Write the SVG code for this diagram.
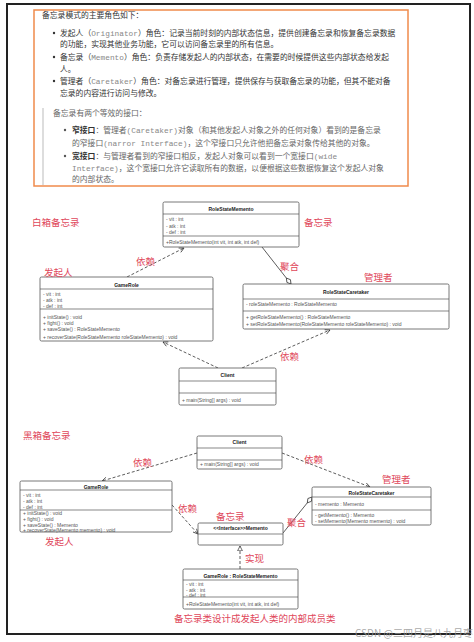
<svg xmlns="http://www.w3.org/2000/svg" width="474" height="642" viewBox="0 0 474 642">
<style>
.cn{font-family:"Noto Sans CJK SC","Noto Sans",sans-serif;font-size:7.8px;fill:#333}
.q{fill:#666}
.b{font-weight:bold;fill:#333}
.mono{font-family:"Liberation Mono",monospace;fill:#888}
.box{fill:#fff;stroke:#555;stroke-width:0.8}
.div{stroke:#555;stroke-width:0.7}
.t{font-family:"Liberation Sans",Arial,sans-serif;font-size:5px;font-weight:bold;fill:#222;text-anchor:middle}
.a{font-family:"Liberation Sans",Arial,sans-serif;font-size:5px;fill:#555}
.dep{fill:none;stroke:#333;stroke-width:0.8;stroke-dasharray:3 2}
.sol{fill:none;stroke:#333;stroke-width:0.8}
.lab{font-family:"Noto Sans CJK SC",sans-serif;font-size:9.5px;fill:#e0475b}
</style>
<defs>
<marker id="open" viewBox="0 0 10 10" refX="9" refY="5" markerWidth="6" markerHeight="6" markerUnits="userSpaceOnUse" orient="auto"><path d="M1,1 L9,5 L1,9" fill="none" stroke="#333" stroke-width="1.3"/></marker>
<marker id="dia" viewBox="0 0 12 8" refX="11" refY="4" markerWidth="9" markerHeight="6" markerUnits="userSpaceOnUse" orient="auto"><path d="M1,4 L6,1 L11,4 L6,7 Z" fill="#fff" stroke="#333" stroke-width="1"/></marker>
<marker id="tri" viewBox="0 0 10 10" refX="9" refY="5" markerWidth="6" markerHeight="6" markerUnits="userSpaceOnUse" orient="auto"><path d="M1,1 L9,5 L1,9 Z" fill="#fff" stroke="#333" stroke-width="1.2"/></marker>
</defs>
<rect x="0" y="0" width="474" height="642" fill="#fff"/>
<rect x="7" y="4" width="463" height="630" fill="none" stroke="#222" stroke-width="2"/>

<g id="notes">
<rect x="34" y="10" width="374" height="176" fill="#fff" stroke="#f08a4b" stroke-width="1.5"/>
<text class="cn" x="42" y="17.8">备忘录模式的主要角色如下：</text>
<circle cx="54" cy="33" r="1.2" fill="#333"/>
<text class="cn" x="60" y="36"><tspan>发起人（</tspan><tspan class="mono">Originator</tspan><tspan>）角色：记录当前时刻的内部状态信息，提供创建备忘录和恢复备忘录数据</tspan></text>
<text class="cn" x="60" y="47">的功能，实现其他业务功能，它可以访问备忘录里的所有信息。</text>
<circle cx="54" cy="57" r="1.2" fill="#333"/>
<text class="cn" x="60" y="60"><tspan>备忘录（</tspan><tspan class="mono">Memento</tspan><tspan>）角色：负责存储发起人的内部状态，在需要的时候提供这些内部状态给发起</tspan></text>
<text class="cn" x="60" y="72">人。</text>
<circle cx="54" cy="81" r="1.2" fill="#333"/>
<text class="cn" x="60" y="84"><tspan>管理者（</tspan><tspan class="mono">Caretaker</tspan><tspan>）角色：对备忘录进行管理，提供保存与获取备忘录的功能，但其不能对备</tspan></text>
<text class="cn" x="60" y="96">忘录的内容进行访问与修改。</text>
<rect x="42" y="108" width="2" height="77" fill="#ddd"/>
<text class="cn q" x="53" y="116">备忘录有两个等效的接口：</text>
<circle cx="65" cy="130" r="1.2" fill="#555"/>
<text class="cn q" x="72" y="133"><tspan class="b">窄接口</tspan><tspan>：管理者</tspan><tspan class="mono">(Caretaker)</tspan><tspan>对象（和其他发起人对象之外的任何对象）看到的是备忘录</tspan></text>
<text class="cn q" x="72" y="146"><tspan>的窄接口</tspan><tspan class="mono">(narror Interface)</tspan><tspan>，这个窄接口只允许他把备忘录对象传给其他的对象。</tspan></text>
<circle cx="65" cy="156" r="1.2" fill="#555"/>
<text class="cn q" x="72" y="159"><tspan class="b">宽接口</tspan><tspan>：与管理者看到的窄接口相反，发起人对象可以看到一个宽接口</tspan><tspan class="mono">(wide</tspan></text>
<text class="cn q" x="72" y="171"><tspan class="mono">Interface)</tspan><tspan>，这个宽接口允许它读取所有的数据，以便根据这些数据恢复这个发起人对象</tspan></text>
<text class="cn q" x="72" y="182">的内部状态。</text>
</g>

<g id="connectors">
<line class="dep" x1="127" y1="277" x2="184" y2="248" marker-end="url(#open)"/>
<line class="sol" x1="262" y1="247" x2="291" y2="284" marker-end="url(#dia)"/>
<line class="dep" x1="218" y1="368" x2="163" y2="342" marker-end="url(#open)"/>
<line class="dep" x1="242" y1="368" x2="330" y2="330" marker-end="url(#open)"/>
<line class="dep" x1="197" y1="453" x2="102" y2="481" marker-end="url(#open)"/>
<line class="dep" x1="282" y1="453" x2="370" y2="487" marker-end="url(#open)"/>
<line class="dep" x1="172" y1="505" x2="198" y2="534" marker-end="url(#open)"/>
<line class="sol" x1="283" y1="533" x2="312" y2="497" marker-end="url(#dia)"/>
<line class="dep" x1="240" y1="569" x2="240" y2="546" marker-end="url(#tri)"/>
</g>

<g id="RoleStateMemento1">
<rect class="box" x="163" y="202" width="136" height="45" rx="1.5"/>
<line class="div" x1="163" y1="214" x2="299" y2="214"/>
<line class="div" x1="163" y1="236" x2="299" y2="236"/>
<text class="t" x="231" y="210.5">RoleStateMemento</text>
<text class="a" x="166" y="221">- vit : int</text>
<text class="a" x="166" y="227.5">- atk : int</text>
<text class="a" x="166" y="234">- def : int</text>
<text class="a" x="166" y="243.5">+RoleStateMemento(int vit, int atk, int def)</text>
</g>

<g id="GameRole1">
<rect class="box" x="40" y="277" width="173" height="64" rx="1.5"/>
<line class="div" x1="40" y1="289" x2="213" y2="289"/>
<line class="div" x1="40" y1="309" x2="213" y2="309"/>
<text class="t" x="126.5" y="286.5">GameRole</text>
<text class="a" x="43" y="296">- vit : int</text>
<text class="a" x="43" y="302">- atk : int</text>
<text class="a" x="43" y="308">- def : int</text>
<text class="a" x="43" y="318.5">+ initState() : void</text>
<text class="a" x="43" y="324.5">+ fight() : void</text>
<text class="a" x="43" y="331">+ saveState() : RoleStateMemento</text>
<text class="a" x="43" y="338.5">+ recoverState(RoleStateMemento roleStateMemento) : void</text>
</g>

<g id="RoleStateCaretaker1">
<rect class="box" x="243" y="284" width="206" height="45" rx="1.5"/>
<line class="div" x1="243" y1="299" x2="449" y2="299"/>
<line class="div" x1="243" y1="311" x2="449" y2="311"/>
<text class="t" x="346" y="294">RoleStateCaretaker</text>
<text class="a" x="246" y="306">- roleStateMemento : RoleStateMemento</text>
<text class="a" x="246" y="319">+ getRoleStateMemento() : RoleStateMemento</text>
<text class="a" x="246" y="325.5">+ setRoleStateMemento(RoleStateMemento roleStateMemento) : void</text>
</g>

<g id="Client1">
<rect class="box" x="179" y="368" width="97" height="37" rx="1.5"/>
<line class="div" x1="179" y1="381" x2="276" y2="381"/>
<line class="div" x1="179" y1="393" x2="276" y2="393"/>
<text class="t" x="227.5" y="377">Client</text>
<text class="a" x="182" y="401.5">+ main(String[] args) : void</text>
</g>

<g id="Client2">
<rect class="box" x="197" y="436" width="85" height="33" rx="1.5"/>
<line class="div" x1="197" y1="448" x2="282" y2="448"/>
<line class="div" x1="197" y1="460" x2="282" y2="460"/>
<text class="t" x="239.5" y="444">Client</text>
<text class="a" x="200" y="465.5">+ main(String[] args) : void</text>
</g>

<g id="GameRole2">
<rect class="box" x="20" y="481" width="152" height="51" rx="1.5"/>
<line class="div" x1="20" y1="490" x2="172" y2="490"/>
<line class="div" x1="20" y1="510" x2="172" y2="510"/>
<text class="t" x="96" y="488.5">GameRole</text>
<text class="a" x="23" y="496.5">- vit : int</text>
<text class="a" x="23" y="502.5">- atk : int</text>
<text class="a" x="23" y="508.5">- def : int</text>
<text class="a" x="23" y="515">+ initState() : void</text>
<text class="a" x="23" y="521">+ fight() : void</text>
<text class="a" x="23" y="526.5">+ saveState() : Memento</text>
<text class="a" x="23" y="531.5">+ recoverState(Memento memento) : void</text>
</g>

<g id="RoleStateCaretaker2">
<rect class="box" x="312" y="487" width="119" height="38" rx="1.5"/>
<line class="div" x1="312" y1="497" x2="431" y2="497"/>
<line class="div" x1="312" y1="510" x2="431" y2="510"/>
<text class="t" x="371.5" y="494.5">RoleStateCaretaker</text>
<text class="a" x="315" y="505.5">- memento : Memento</text>
<text class="a" x="315" y="516.5">- getMemento() : Memento</text>
<text class="a" x="315" y="522.5">- setMemento(Memento memento) : void</text>
</g>

<g id="Memento">
<rect class="box" x="198" y="523" width="85" height="22" rx="1.5"/>
<line class="div" x1="198" y1="534" x2="283" y2="534"/>
<text class="t" x="240.5" y="530">&lt;&lt;Interface&gt;&gt;Memento</text>
</g>

<g id="InnerMemento">
<rect class="box" x="183" y="569" width="115" height="40" rx="1.5"/>
<line class="div" x1="183" y1="580" x2="298" y2="580"/>
<line class="div" x1="183" y1="597" x2="298" y2="597"/>
<text class="t" x="240.5" y="577.5">GameRole : RoleStateMemento</text>
<text class="a" x="186" y="585.5">- vit : int</text>
<text class="a" x="186" y="591.5">- atk : int</text>
<text class="a" x="186" y="597">- def : int</text>
<text class="a" x="186" y="605.5">+RoleStateMemento(int vit, int atk, int def)</text>
</g>

<g id="labels">
<text class="lab" x="32" y="225.5">白箱备忘录</text>
<text class="lab" x="304" y="225.5">备忘录</text>
<text class="lab" x="136" y="264.5">依赖</text>
<text class="lab" x="280" y="269.5">聚合</text>
<text class="lab" x="44" y="275.5">发起人</text>
<text class="lab" x="364" y="280.5">管理者</text>
<text class="lab" x="280" y="359.5">依赖</text>
<text class="lab" x="23" y="438.5">黑箱备忘录</text>
<text class="lab" x="133" y="465.5">依赖</text>
<text class="lab" x="304" y="462.5">依赖</text>
<text class="lab" x="382" y="482.5">管理者</text>
<text class="lab" x="178" y="511.5">依赖</text>
<text class="lab" x="216" y="519.5">备忘录</text>
<text class="lab" x="287" y="525.5">聚合</text>
<text class="lab" x="45" y="544.5">发起人</text>
<text class="lab" x="245" y="561.5">实现</text>
<text class="lab" x="174" y="621.5">备忘录类设计成发起人类的内部成员类</text>
</g>
<text x="355" y="636.5" font-family="Noto Sans CJK SC,sans-serif" font-size="10" fill="#999" fill-opacity="0.85">CSDN @三四月是八九月枣</text>
</svg>
